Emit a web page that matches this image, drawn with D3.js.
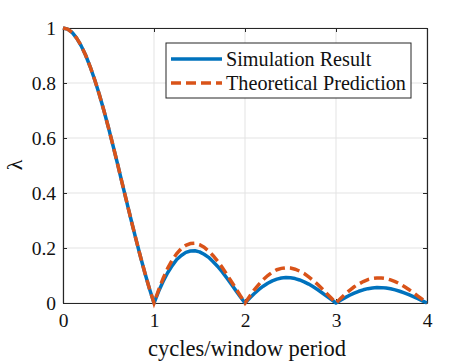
<!DOCTYPE html>
<html>
<head>
<meta charset="utf-8">
<script src="https://cdn.jsdelivr.net/npm/d3@7/dist/d3.min.js"></script>
<style>
  body { margin: 0; background: #fff; }
  svg { display: block; font-family: "Liberation Serif", "Times New Roman", serif; }
</style>
</head>
<body>
<div id="chart"></div>
<script>
// x values (cycles/window period) shared by both curves
var cycles = [0, 0.05, 0.1, 0.15, 0.2, 0.25, 0.3, 0.35, 0.4, 0.45, 0.5, 0.55, 0.6, 0.65, 0.7, 0.75, 0.8, 0.85, 0.9, 0.95,
  1, 1.05, 1.1, 1.15, 1.2, 1.25, 1.3, 1.35, 1.4, 1.45, 1.5, 1.55, 1.6, 1.65, 1.7, 1.75, 1.8, 1.85, 1.9, 1.95,
  2, 2.05, 2.1, 2.15, 2.2, 2.25, 2.3, 2.35, 2.4, 2.45, 2.5, 2.55, 2.6, 2.65, 2.7, 2.75, 2.8, 2.85, 2.9, 2.95,
  3, 3.05, 3.1, 3.15, 3.2, 3.25, 3.3, 3.35, 3.4, 3.45, 3.5, 3.55, 3.6, 3.65, 3.7, 3.75, 3.8, 3.85, 3.9, 3.95, 4];

var simulation = [1, 0.996, 0.984, 0.963, 0.935, 0.900, 0.858, 0.810, 0.757, 0.699, 0.637, 0.572, 0.505, 0.436, 0.368, 0.300, 0.234, 0.170, 0.109, 0.052,
  0, 0.0415, 0.078, 0.110, 0.136, 0.158, 0.173, 0.184, 0.189, 0.190, 0.186, 0.177, 0.166, 0.150, 0.133, 0.113, 0.091, 0.068, 0.045, 0.022,
  0, 0.0175, 0.0337, 0.0484, 0.0612, 0.072, 0.0806, 0.0869, 0.0908, 0.0924, 0.0917, 0.0888, 0.0838, 0.077, 0.0687, 0.0589, 0.0481, 0.0365, 0.0244, 0.0122,
  0, 0.010, 0.0195, 0.0282, 0.036, 0.0426, 0.048, 0.0521, 0.0547, 0.056, 0.0559, 0.0545, 0.0517, 0.0478, 0.0428, 0.0369, 0.0303, 0.0231, 0.0155, 0.0077, 0];

var theory = [1, 0.996, 0.984, 0.963, 0.936, 0.900, 0.858, 0.810, 0.757, 0.699, 0.637, 0.572, 0.505, 0.436, 0.368, 0.300, 0.234, 0.170, 0.109, 0.052,
  0, 0.047, 0.089, 0.126, 0.156, 0.180, 0.198, 0.210, 0.216, 0.217, 0.212, 0.203, 0.189, 0.172, 0.152, 0.129, 0.104, 0.078, 0.052, 0.026,
  0, 0.024, 0.047, 0.067, 0.085, 0.100, 0.112, 0.121, 0.126, 0.128, 0.127, 0.123, 0.116, 0.107, 0.095, 0.082, 0.067, 0.051, 0.034, 0.017,
  0, 0.016, 0.032, 0.046, 0.059, 0.069, 0.078, 0.085, 0.089, 0.091, 0.091, 0.089, 0.084, 0.078, 0.070, 0.060, 0.049, 0.038, 0.025, 0.013, 0];

var xTicks = [0, 1, 2, 3, 4];
var yTicks = [0, 0.2, 0.4, 0.6, 0.8, 1];
var seriesNames = ['Simulation Result', 'Theoretical Prediction'];

var width = 474, height = 364,
    margin = {left: 63, right: 47, top: 28, bottom: 61};
var w = width - margin.left - margin.right,
    h = height - margin.top - margin.bottom;

var svg = d3.select('#chart').append('svg')
    .attr('width', width)
    .attr('height', height);
svg.append('rect').attr('width', width).attr('height', height).attr('fill', '#fff');

var g = svg.append('g')
    .attr('transform', 'translate(' + margin.left + ',' + margin.top + ')');

var x = d3.scaleLinear().domain([0, 4]).range([0, w]);
var y = d3.scaleLinear().domain([0, 1]).range([h, 0]);

// grid
g.append('g').selectAll('line').data(xTicks).enter().append('line')
    .attr('x1', x).attr('x2', x).attr('y1', 0).attr('y2', h)
    .attr('stroke', '#e3e3e3').attr('stroke-width', 1);
g.append('g').selectAll('line').data(yTicks).enter().append('line')
    .attr('y1', y).attr('y2', y).attr('x1', 0).attr('x2', w)
    .attr('stroke', '#e3e3e3').attr('stroke-width', 1);

// axes, ticks pointing in
var xAxis = g.append('g').attr('transform', 'translate(0,' + h + ')')
    .call(d3.axisBottom(x).tickValues(xTicks).tickSizeInner(-4).tickSizeOuter(0).tickPadding(10)
      .tickFormat(d3.format('d')));
var yAxis = g.append('g')
    .call(d3.axisLeft(y).tickValues(yTicks).tickSizeInner(-4).tickSizeOuter(0).tickPadding(7)
      .tickFormat(function(d) { return d === 0 || d === 1 ? d : d3.format('.1f')(d); }));
var xTop = g.append('g')
    .call(d3.axisTop(x).tickValues(xTicks).tickSizeInner(-4).tickSizeOuter(0).tickFormat(''));
var yRight = g.append('g').attr('transform', 'translate(' + w + ',0)')
    .call(d3.axisRight(y).tickValues(yTicks).tickSizeInner(-4).tickSizeOuter(0).tickFormat(''));

[xAxis, yAxis, xTop, yRight].forEach(function(a) {
  a.select('.domain').attr('stroke', '#262626').attr('stroke-width', 1.2);
  a.selectAll('.tick line').attr('stroke', '#262626');
  a.selectAll('text').attr('font-family', '"Liberation Serif", serif')
    .attr('font-size', 19.5).attr('fill', '#111');
});

// curves
var line = d3.line()
    .x(function(d) { return x(d[0]); })
    .y(function(d) { return y(d[1]); });

var simData = cycles.map(function(c, i) { return [c, simulation[i]]; });
var theoryData = cycles.map(function(c, i) { return [c, theory[i]]; });

g.append('path').datum(simData)
    .attr('d', line)
    .attr('fill', 'none')
    .attr('stroke', '#0072BD')
    .attr('stroke-width', 3.5)
    .attr('stroke-linejoin', 'round');

g.append('path').datum(theoryData)
    .attr('d', line)
    .attr('fill', 'none')
    .attr('stroke', '#D95319')
    .attr('stroke-width', 3.5)
    .attr('stroke-dasharray', '10,5');

// axis labels
svg.append('text')
    .attr('x', margin.left + w / 2 + 2)
    .attr('y', 356)
    .attr('text-anchor', 'middle')
    .attr('font-size', 22.5)
    .attr('fill', '#111')
    .text('cycles/window period');

svg.append('text')
    .attr('transform', 'translate(22,165) rotate(-90)')
    .attr('text-anchor', 'middle')
    .attr('font-size', 22)
    .attr('fill', '#111')
    .text('λ');

// legend
var legend = svg.append('g').attr('transform', 'translate(166,43)');
legend.append('rect')
    .attr('width', 245).attr('height', 55)
    .attr('fill', '#fff').attr('stroke', '#262626').attr('stroke-width', 1);

var colors = ['#0072BD', '#D95319'];
seriesNames.forEach(function(name, i) {
  var yy = 16 + i * 24;
  legend.append('line')
      .attr('x1', 5).attr('x2', 56).attr('y1', yy).attr('y2', yy)
      .attr('stroke', colors[i]).attr('stroke-width', 3.5)
      .attr('stroke-dasharray', i === 1 ? '10,5' : null);
  legend.append('text')
      .attr('x', 60).attr('y', yy).attr('dy', '0.35em')
      .attr('font-size', 20.2).attr('fill', '#111')
      .text(name);
});
</script>
</body>
</html>
